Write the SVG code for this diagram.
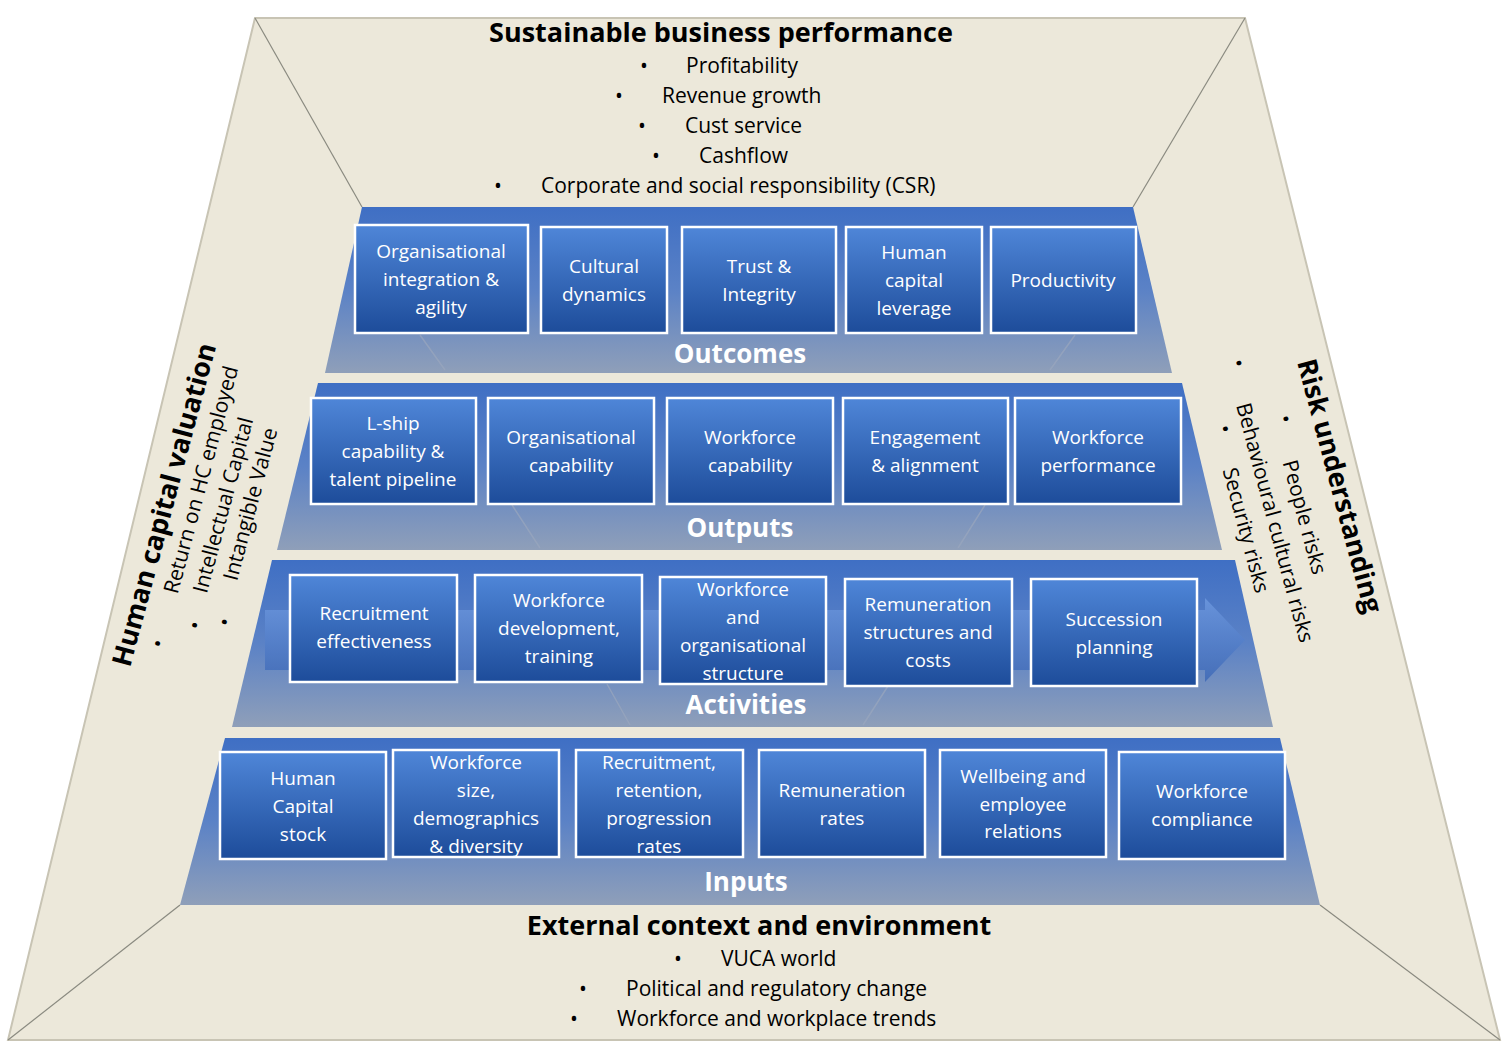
<svg xmlns="http://www.w3.org/2000/svg" width="1505" height="1050" viewBox="0 0 1505 1050">
<defs>
<linearGradient id="band" x1="0" y1="0" x2="0" y2="1"><stop offset="0" stop-color="#3f6fc4"/><stop offset="0.5" stop-color="#5b82c6"/><stop offset="1" stop-color="#8f9fb9"/></linearGradient>
<linearGradient id="box" x1="0" y1="0" x2="0" y2="1"><stop offset="0" stop-color="#4f86d8"/><stop offset="1" stop-color="#1d4c9a"/></linearGradient>
<linearGradient id="arr" x1="0" y1="0" x2="0" y2="1"><stop offset="0" stop-color="#6f9ae0"/><stop offset="1" stop-color="#3a66b5"/></linearGradient>
<style>
.bx{fill:url(#box);stroke:#fff;stroke-width:2.5}
.bt{font-family:"Open Sans","Liberation Sans",sans-serif;font-size:19px;fill:#fff;text-anchor:middle}
.lb{font-family:"Open Sans","Liberation Sans",sans-serif;font-size:26px;font-weight:bold;fill:#fff;text-anchor:middle}
.h{font-family:"Open Sans","Liberation Sans",sans-serif;font-size:27px;font-weight:bold;fill:#000;text-anchor:middle}
.t{font-family:"Open Sans","Liberation Sans",sans-serif;font-size:21px;fill:#000}
.ln{stroke:#8a8a80;stroke-width:1.2;fill:none}
.fl{stroke:#9aa6bd;stroke-width:1.5;fill:none;opacity:0.7}
</style>
</defs>
<rect width="1505" height="1050" fill="#fff"/>
<polygon points="255,18 1245,18 1500,1040 8,1040" fill="#ece8da" stroke="#c8c4b4" stroke-width="2"/>
<g id="connectors">
<line class="ln" x1="255" y1="18" x2="362" y2="207"/>
<line class="ln" x1="1245" y1="18" x2="1133" y2="207"/>
<line class="ln" x1="8" y1="1040" x2="180" y2="905"/>
<line class="ln" x1="1500" y1="1040" x2="1320" y2="905"/>
</g>
<g id="bands">
<polygon points="362,207 1133,207 1172,373 325,373" fill="url(#band)"/>
<polygon points="318,383 1182,383 1222,550 277,550" fill="url(#band)"/>
<polygon points="272,560 1235,560 1273,727 232,727" fill="url(#band)"/>
<polygon points="225,738 1280,738 1320,905 180,905" fill="url(#band)"/>
<polygon points="265,610 1205,610 1205,598 1245,640 1205,682 1205,670 265,670" fill="url(#arr)" opacity="0.8"/>
<path class="fl" d="M420,335 L445,370 M1075,335 L1050,370 M512,505 L540,548 M985,505 L958,548 M607,684 L630,725 M888,686 L863,725"/>
</g>
<g id="outcomes">
<rect class="bx" x="355" y="225" width="173" height="108"/><text class="bt" x="441" y="258">Organisational</text><text class="bt" x="441" y="286">integration &amp;</text><text class="bt" x="441" y="314">agility</text>
<rect class="bx" x="541" y="227" width="126" height="106"/><text class="bt" x="604" y="273">Cultural</text><text class="bt" x="604" y="301">dynamics</text>
<rect class="bx" x="682" y="227" width="154" height="106"/><text class="bt" x="759" y="273">Trust &amp;</text><text class="bt" x="759" y="301">Integrity</text>
<rect class="bx" x="846" y="227" width="136" height="106"/><text class="bt" x="914" y="259">Human</text><text class="bt" x="914" y="287">capital</text><text class="bt" x="914" y="315">leverage</text>
<rect class="bx" x="991" y="227" width="145" height="106"/><text class="bt" x="1063" y="287">Productivity</text>
<text class="lb" x="740" y="363">Outcomes</text>
</g>
<g id="outputs">
<rect class="bx" x="311" y="398" width="165" height="106"/><text class="bt" x="393" y="430">L-ship</text><text class="bt" x="393" y="458">capability &amp;</text><text class="bt" x="393" y="486">talent pipeline</text>
<rect class="bx" x="488" y="398" width="166" height="106"/><text class="bt" x="571" y="444">Organisational</text><text class="bt" x="571" y="472">capability</text>
<rect class="bx" x="667" y="398" width="166" height="106"/><text class="bt" x="750" y="444">Workforce</text><text class="bt" x="750" y="472">capability</text>
<rect class="bx" x="843" y="398" width="165" height="106"/><text class="bt" x="925" y="444">Engagement</text><text class="bt" x="925" y="472">&amp; alignment</text>
<rect class="bx" x="1015" y="398" width="166" height="106"/><text class="bt" x="1098" y="444">Workforce</text><text class="bt" x="1098" y="472">performance</text>
<text class="lb" x="740" y="537">Outputs</text>
</g>
<g id="activities">
<rect class="bx" x="290" y="575" width="167" height="107"/><text class="bt" x="374" y="620">Recruitment</text><text class="bt" x="374" y="648">effectiveness</text>
<rect class="bx" x="475" y="575" width="167" height="107"/><text class="bt" x="559" y="607">Workforce</text><text class="bt" x="559" y="635">development,</text><text class="bt" x="559" y="663">training</text>
<rect class="bx" x="660" y="577" width="166" height="107"/><text class="bt" x="743" y="596">Workforce</text><text class="bt" x="743" y="624">and</text><text class="bt" x="743" y="652">organisational</text><text class="bt" x="743" y="680">structure</text>
<rect class="bx" x="845" y="579" width="167" height="107"/><text class="bt" x="928" y="611">Remuneration</text><text class="bt" x="928" y="639">structures and</text><text class="bt" x="928" y="667">costs</text>
<rect class="bx" x="1031" y="579" width="166" height="107"/><text class="bt" x="1114" y="626">Succession</text><text class="bt" x="1114" y="654">planning</text>
<text class="lb" x="746" y="714">Activities</text>
</g>
<g id="inputs">
<rect class="bx" x="220" y="752" width="166" height="107"/><text class="bt" x="303" y="785">Human</text><text class="bt" x="303" y="813">Capital</text><text class="bt" x="303" y="841">stock</text>
<rect class="bx" x="393" y="750" width="166" height="107"/><text class="bt" x="476" y="769">Workforce</text><text class="bt" x="476" y="797">size,</text><text class="bt" x="476" y="825">demographics</text><text class="bt" x="476" y="853">&amp; diversity</text>
<rect class="bx" x="576" y="750" width="167" height="107"/><text class="bt" x="659" y="769">Recruitment,</text><text class="bt" x="659" y="797">retention,</text><text class="bt" x="659" y="825">progression</text><text class="bt" x="659" y="853">rates</text>
<rect class="bx" x="759" y="750" width="166" height="107"/><text class="bt" x="842" y="797">Remuneration</text><text class="bt" x="842" y="825">rates</text>
<rect class="bx" x="940" y="750" width="166" height="107"/><text class="bt" x="1023" y="783">Wellbeing and</text><text class="bt" x="1023" y="811">employee</text><text class="bt" x="1023" y="838">relations</text>
<rect class="bx" x="1119" y="752" width="166" height="107"/><text class="bt" x="1202" y="798">Workforce</text><text class="bt" x="1202" y="826">compliance</text>
<text class="lb" x="746" y="891">Inputs</text>
</g>
<g id="top">
<text class="h" x="721" y="42">Sustainable business performance</text>
<text class="t" x="640" y="73">•</text><text class="t" x="686" y="73">Profitability</text>
<text class="t" x="615" y="103">•</text><text class="t" x="662" y="103">Revenue growth</text>
<text class="t" x="638" y="133">•</text><text class="t" x="685" y="133">Cust service</text>
<text class="t" x="652" y="163">•</text><text class="t" x="699" y="163">Cashflow</text>
<text class="t" x="494" y="193">•</text><text class="t" x="541" y="193">Corporate and social responsibility (CSR)</text>
</g>
<g id="bottom">
<text class="h" x="759" y="935">External context and environment</text>
<text class="t" x="674" y="966">•</text><text class="t" x="721" y="966">VUCA world</text>
<text class="t" x="579" y="996">•</text><text class="t" x="626" y="996">Political and regulatory change</text>
<text class="t" x="570" y="1026">•</text><text class="t" x="617" y="1026">Workforce and workplace trends</text>
</g>
<g id="left" transform="translate(130,668) rotate(-75)">
<text class="h" x="0" y="0" style="text-anchor:start">Human capital valuation</text>
<text class="t" x="27" y="28">•</text><text class="t" x="83" y="27">Return on HC employed</text>
<text class="t" x="54" y="59">•</text><text class="t" x="91" y="55">Intellectual Capital</text>
<text class="t" x="65" y="87">•</text><text class="t" x="111" y="81">Intangible Value</text>
</g>
<g id="right" transform="translate(1297,362) rotate(75)">
<text class="h" x="0" y="0" style="text-anchor:start">Risk understanding</text>
<text class="t" x="-18" y="64">•</text>
<text class="t" x="48" y="33">•</text><text class="t" x="93" y="40">People risks</text>
<text class="t" x="42" y="94">•</text><text class="t" x="26" y="70">Behavioural cultural risks</text>
<text class="t" x="85" y="100">Security risks</text>
</g>
</svg>
